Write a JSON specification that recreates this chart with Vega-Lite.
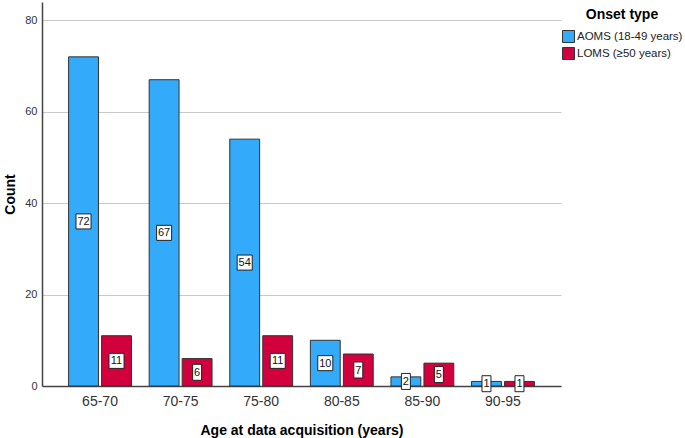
{
  "$schema": "https://vega.github.io/schema/vega-lite/v6.json",
  "autosize": "none",
  "width": 519,
  "height": 384,
  "padding": {"left": 42, "top": 2, "right": 124, "bottom": 52},
  "background": "white",
  "config": {
    "font": "Liberation Sans",
    "view": {"stroke": null},
    "axis": {"labelColor": "#333", "titleColor": "#000", "titleFontWeight": "bold", "titleFontSize": 14}
  },
  "data": {
    "values": [
      {"age": "65-70", "onset": "AOMS (18-49 years)", "count": 72},
      {"age": "65-70", "onset": "LOMS (≥50 years)", "count": 11},
      {"age": "70-75", "onset": "AOMS (18-49 years)", "count": 67},
      {"age": "70-75", "onset": "LOMS (≥50 years)", "count": 6},
      {"age": "75-80", "onset": "AOMS (18-49 years)", "count": 54},
      {"age": "75-80", "onset": "LOMS (≥50 years)", "count": 11},
      {"age": "80-85", "onset": "AOMS (18-49 years)", "count": 10},
      {"age": "80-85", "onset": "LOMS (≥50 years)", "count": 7},
      {"age": "85-90", "onset": "AOMS (18-49 years)", "count": 2},
      {"age": "85-90", "onset": "LOMS (≥50 years)", "count": 5},
      {"age": "90-95", "onset": "AOMS (18-49 years)", "count": 1},
      {"age": "90-95", "onset": "LOMS (≥50 years)", "count": 1}
    ]
  },
  "transform": [{"calculate": "datum.count / 2", "as": "mid"}],
  "encoding": {
    "x": {
      "field": "age",
      "type": "nominal",
      "sort": null,
      "scale": {"paddingInner": 0.22, "paddingOuter": 0.33},
      "axis": {
        "title": "Age at data acquisition (years)",
        "titlePadding": 15,
        "labelAngle": 0,
        "labelFontSize": 14,
        "labelPadding": 8,
        "ticks": false,
        "domainColor": "#444",
        "domainWidth": 1.5
      }
    },
    "xOffset": {"field": "onset", "type": "nominal", "scale": {"paddingInner": 0.095}}
  },
  "layer": [
    {
      "mark": {"type": "bar", "stroke": "#333", "strokeWidth": 1},
      "encoding": {
        "y": {
          "field": "count",
          "type": "quantitative",
          "scale": {"domain": [0, 84], "nice": false},
          "axis": {
            "title": "Count",
            "titlePadding": 7,
            "values": [0, 20, 40, 60, 80],
            "labelFontSize": 11,
            "labelPadding": 5,
            "ticks": false,
            "grid": true,
            "gridColor": "#c8c8c8",
            "gridWidth": 1,
            "domainColor": "#444",
            "domainWidth": 1.5
          }
        },
        "fill": {
          "field": "onset",
          "type": "nominal",
          "scale": {"range": ["#33aafa", "#d2003c"]},
          "legend": {
            "title": "Onset type",
            "orient": "none",
            "legendX": 520,
            "legendY": 6,
            "padding": 0,
            "titleFontSize": 14,
            "titleFontWeight": "bold",
            "titleAnchor": "middle",
            "titlePadding": 8,
            "labelFontSize": 11.5,
            "labelColor": "#222",
            "labelOffset": 2,
            "symbolType": "square",
            "symbolSize": 144,
            "symbolStrokeColor": "#333",
            "symbolStrokeWidth": 1,
            "rowPadding": 0
          }
        }
      }
    },
    {
      "mark": {"type": "point", "filled": true, "fill": "white", "stroke": "#222", "strokeWidth": 1, "opacity": 1, "size": 256},
      "encoding": {
        "y": {"field": "mid", "type": "quantitative"},
        "shape": {
          "condition": {"test": "datum.count >= 10", "value": "M-0.94,-0.94H0.94V0.94H-0.94Z"},
          "value": "M-0.56,-1H0.56V1H-0.56Z"
        }
      }
    },
    {
      "mark": {"type": "text", "fontSize": 11, "color": "#111", "baseline": "middle", "align": "center", "dy": 0.5},
      "encoding": {
        "y": {"field": "mid", "type": "quantitative"},
        "text": {"field": "count", "type": "quantitative"}
      }
    }
  ]
}
